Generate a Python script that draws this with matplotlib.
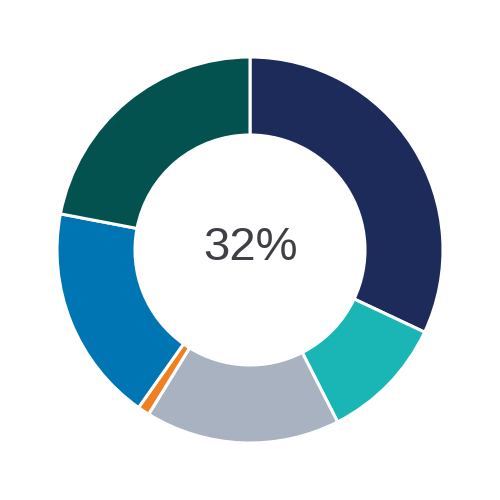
import matplotlib
matplotlib.use("Agg")
import matplotlib.pyplot as plt

# segment shares (percent), clockwise from 12 o'clock
labels = ["Navy", "Teal", "Gray", "Orange", "Blue", "Green"]
values = [32, 10.5, 16.3, 1.0, 18.2, 22.0]
colors = ["#1c2b5a", "#1ab5b5", "#a8b2c0", "#f07f22", "#0075b4", "#04524f"]
center_text = "32%"

fig = plt.figure(figsize=(5, 5), dpi=100)
ax = fig.add_axes([0, 0, 1, 1])

ax.pie(values, colors=colors, startangle=90, counterclock=False,
       radius=193, center=(0, 0),
       wedgeprops=dict(width=78, edgecolor="white", linewidth=2.2))

ax.text(0, 2, center_text, ha="center", va="center", fontsize=34,
        color="#3f4045", family="Liberation Sans")

ax.set_xlim(-250, 250)
ax.set_ylim(-250, 250)
ax.set_aspect("equal")
ax.axis("off")

fig.savefig("out.png", dpi=100)
